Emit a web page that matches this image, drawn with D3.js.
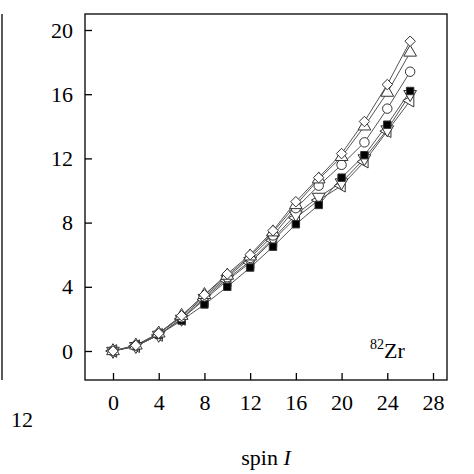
<!DOCTYPE html><html><head><script src="https://cdn.jsdelivr.net/npm/d3@7"></script>
<style>body{margin:0;background:#fff}text{font-family:"Liberation Serif","Times New Roman",serif}</style></head><body>
<svg id="c" width="474" height="474"></svg>
<script>
const spins=[0,2,4,6,8,10,12,14,16,18,20,22,24,26];
const sDiamond=[0,0.35,1.1,2.2,3.5,4.8,6.0,7.5,9.3,10.8,12.3,14.3,16.6,19.3];
const sUp=[0,0.35,1.1,2.2,3.5,4.7,5.9,7.4,9.1,10.7,12.1,14.0,16.1,18.6];
const sCircle=[0,0.35,1.1,2.1,3.4,4.6,5.8,7.2,8.9,10.3,11.6,13.0,15.1,17.4];
const sSquare=[0,0.3,1.0,1.9,2.9,4.0,5.2,6.5,7.9,9.1,10.8,12.2,14.1,16.2];
const sDown=[0,0.3,1.0,2.0,3.3,4.5,5.6,7.0,8.5,9.6,10.5,12.0,13.8,16.0];
const sLeft=[0,0.3,1.0,2.0,3.2,4.4,5.5,6.9,8.3,9.4,10.3,11.8,13.7,15.6];
const xTicks=[0,4,8,12,16,20,24,28], yTicks=[0,4,8,12,16,20];
const svg=d3.select("#c");
const L=85,R=447,T=14,B=380;
const x=d3.scaleLinear().domain([0,28]).range([113,433]);
const y=d3.scaleLinear().domain([0,20]).range([351,30]);
svg.append("rect").attr("x",L).attr("y",T).attr("width",R-L).attr("height",B-T).attr("fill","none").attr("stroke","#000").attr("stroke-width",1.3);
svg.append("line").attr("x1",2).attr("x2",2).attr("y1",T).attr("y2",B).attr("stroke","#000").attr("stroke-width",1.3);
svg.append("text").attr("x",22).attr("y",427).attr("text-anchor","middle").attr("font-size",22).text("12");
const xa=svg.append("g").attr("transform",`translate(0,${B})`).call(d3.axisBottom(x).tickValues(xTicks).tickSize(-7).tickPadding(14));
const ya=svg.append("g").attr("transform",`translate(${L},0)`).call(d3.axisLeft(y).tickValues(yTicks).tickSize(-7).tickPadding(12));
[xa,ya].forEach(a=>{a.select(".domain").remove();a.selectAll("line").attr("stroke-width",1.3);a.selectAll("text").attr("font-size",22).attr("font-family","Liberation Serif");});
svg.append("text").attr("x",266).attr("y",465).attr("text-anchor","middle").attr("font-size",22).html('spin <tspan font-style="italic">I</tspan>');
svg.append("text").attr("x",370).attr("y",358).attr("font-size",22).html('<tspan font-size="14" dy="-9">82</tspan><tspan dy="9">Zr</tspan>');
const series=[[sLeft,d3.symbolTriangle,-90,false],[sDown,d3.symbolTriangle,180,false],[sSquare,d3.symbolSquare,0,true],[sCircle,d3.symbolCircle,0,false],[sUp,d3.symbolTriangle,0,false],[sDiamond,d3.symbolDiamond2||d3.symbolDiamond,0,false]];
const line=d3.line().x((d,i)=>x(spins[i])).y(d=>y(d));
series.forEach(([v])=>svg.append("path").attr("d",line(v)).attr("fill","none").attr("stroke","#555").attr("stroke-width",1));
series.forEach(([v,sym,rot,fill])=>{
  const s=d3.symbol().type(sym).size(sym===d3.symbolSquare?55:70);
  svg.append("g").selectAll("path").data(v).join("path")
   .attr("transform",(d,i)=>`translate(${x(spins[i])},${y(d)}) rotate(${rot})`)
   .attr("d",s()).attr("fill",fill?"#000":"#fff").attr("stroke","#333").attr("stroke-width",1);
});
</script></body></html>
